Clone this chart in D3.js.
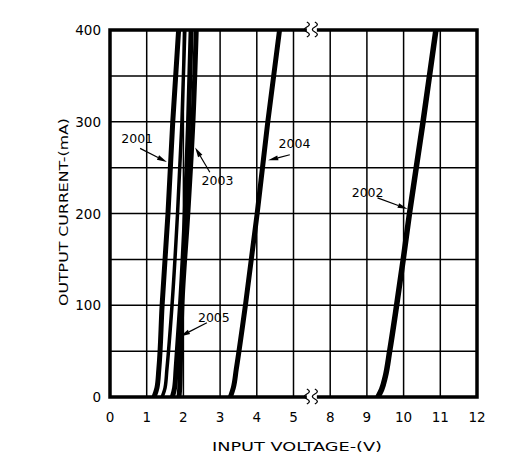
<!DOCTYPE html>
<html><head><meta charset="utf-8">
<script src="https://cdn.jsdelivr.net/npm/d3@7"></script>
<style>html,body{margin:0;padding:0;background:#fff}svg{display:block}</style>
</head><body>
<script>
// ---- data ----
const xTicks = [0,1,2,3,4,5,8,9,10,11,12];
const yTicks = [0,50,100,150,200,250,300,350,400];
const yTickLabels = [0,100,200,300,400];
const seriesNames = ["2001","L2","2003","2005","2004","2002"];
const s2001 = [[1.20,0],[1.28,10],[1.33,30],[1.42,100],[1.58,200],[1.71,300],[1.87,400]];
const sL2   = [[1.42,0],[1.50,10],[1.55,30],[1.69,100],[1.84,200],[1.96,300],[2.04,400]];
const s2003 = [[1.70,0],[1.76,10],[1.80,30],[1.92,100],[2.05,200],[2.14,300],[2.21,400]];
const s2005 = [[1.88,0],[1.90,10],[1.92,40],[1.96,100],[2.12,200],[2.26,300],[2.35,400]];
const s2004 = [[3.28,0],[3.36,10],[3.44,30],[3.69,100],[4.01,200],[4.30,300],[4.62,400]];
const s2002 = [[9.30,0],[9.40,8],[9.50,22],[9.62,50],[9.81,100],[9.99,150],[10.16,200],[10.53,300],[10.88,400]];
// annotation: label position, arrow start, arrow tip (V, mA)
const annLabels = ["2001","2003","2004","2002","2005"];
const annText  = [[0.74,282],[2.93,236],[5.08,277],[9.02,223],[2.83,87]];
const annFrom  = [[0.82,271],[2.72,245],[4.90,264],[9.29,217],[2.64,81]];
const annTip   = [[1.55,256],[2.32,272],[4.31,258],[10.11,205],[1.91,66]];

const W=512,H=471, L=110, T=30, PW=367, PH=367, u=PW/10;
const svg=d3.select("body").append("svg").attr("width",W).attr("height",H);
svg.append("rect").attr("width",W).attr("height",H).attr("fill","#fff");
const x=d3.scaleLinear().domain([0,5,8,12]).range([L,L+5*u,L+6*u,L+PW]);
const y=d3.scaleLinear().domain([0,400]).range([T+PH,T]);
const font="DejaVu Sans, sans-serif";

// grid
const g=svg.append("g");
g.selectAll("line.vx").data(xTicks).join("line")
 .attr("x1",d=>x(d)).attr("x2",d=>x(d)).attr("y1",T).attr("y2",T+PH)
 .attr("stroke","#000").attr("stroke-width",1.5);
g.selectAll("line.hy").data(yTicks).join("line")
 .attr("x1",L).attr("x2",L+PW).attr("y1",d=>y(d)).attr("y2",d=>y(d))
 .attr("stroke","#000").attr("stroke-width",1.5);

// curves
const line=d3.line().x(d=>x(d[0])).y(d=>y(d[1])).curve(d3.curveMonotoneY);
const allSeries=[s2001,sL2,s2003,s2005,s2004,s2002];
const widths=[5,3.5,5,5,5,5.5];
svg.append("defs").append("clipPath").attr("id","pc").append("rect")
 .attr("x",L).attr("y",T).attr("width",PW).attr("height",PH);
svg.append("g").attr("clip-path","url(#pc)").selectAll("path").data(allSeries).join("path")
 .attr("d",line).attr("fill","none").attr("stroke","#000")
 .attr("stroke-width",(d,i)=>widths[i]).attr("stroke-linejoin","round");

// border
svg.append("rect").attr("x",L).attr("y",T).attr("width",PW).attr("height",PH)
 .attr("fill","none").attr("stroke","#000").attr("stroke-width",3.5);

// axis break squiggles
const bx=x(6.5);
[T,T+PH].forEach(by=>{
  svg.append("rect").attr("x",bx-5).attr("y",by-3).attr("width",10).attr("height",6).attr("fill","#fff");
  [-4,4].forEach(o=>{
    const cx=bx+o;
    svg.append("path")
     .attr("d",`M${cx-1},${by-8} q5,2.5 0,5 q-5,2.5 0,5 q5,2.5 0,5`)
     .attr("fill","none").attr("stroke","#000").attr("stroke-width",1.3);
  });
});

// tick labels
svg.selectAll("text.xt").data(xTicks).join("text")
 .attr("x",d=>x(d)).attr("y",422).attr("text-anchor","middle")
 .attr("font-family",font).attr("font-size",13.5).text(d=>d);
svg.selectAll("text.yt").data(yTickLabels).join("text")
 .attr("x",101).attr("y",d=>y(d)+5).attr("text-anchor","end")
 .attr("font-family",font).attr("font-size",13.5).text(d=>d);

// axis titles
svg.append("text").attr("x",297).attr("y",451).attr("text-anchor","middle")
 .attr("font-family",font).attr("font-size",13)
 .attr("textLength",170).attr("lengthAdjust","spacingAndGlyphs").text("INPUT VOLTAGE-(V)");
svg.append("text").attr("transform","translate(68,212) rotate(-90)").attr("text-anchor","middle")
 .attr("font-family",font).attr("font-size",13)
 .attr("textLength",188).attr("lengthAdjust","spacingAndGlyphs").text("OUTPUT CURRENT-(mA)");

// annotations
annLabels.forEach((t,i)=>{
  svg.append("text").attr("x",x(annText[i][0])).attr("y",y(annText[i][1])+5)
   .attr("text-anchor","middle").attr("font-family",font).attr("font-size",12.5).text(t);
  const x1=x(annFrom[i][0]),y1=y(annFrom[i][1]),x2=x(annTip[i][0]),y2=y(annTip[i][1]);
  const a=Math.atan2(y2-y1,x2-x1), len=10, hw=2.5;
  const bxp=x2-len*Math.cos(a), byp=y2-len*Math.sin(a);
  svg.append("line").attr("x1",x1).attr("y1",y1).attr("x2",bxp).attr("y2",byp)
   .attr("stroke","#000").attr("stroke-width",1.2);
  svg.append("path").attr("d",`M${x2},${y2}L${bxp+hw*Math.sin(a)},${byp-hw*Math.cos(a)}L${bxp-hw*Math.sin(a)},${byp+hw*Math.cos(a)}Z`)
   .attr("fill","#000");
});
</script>
</body></html>
